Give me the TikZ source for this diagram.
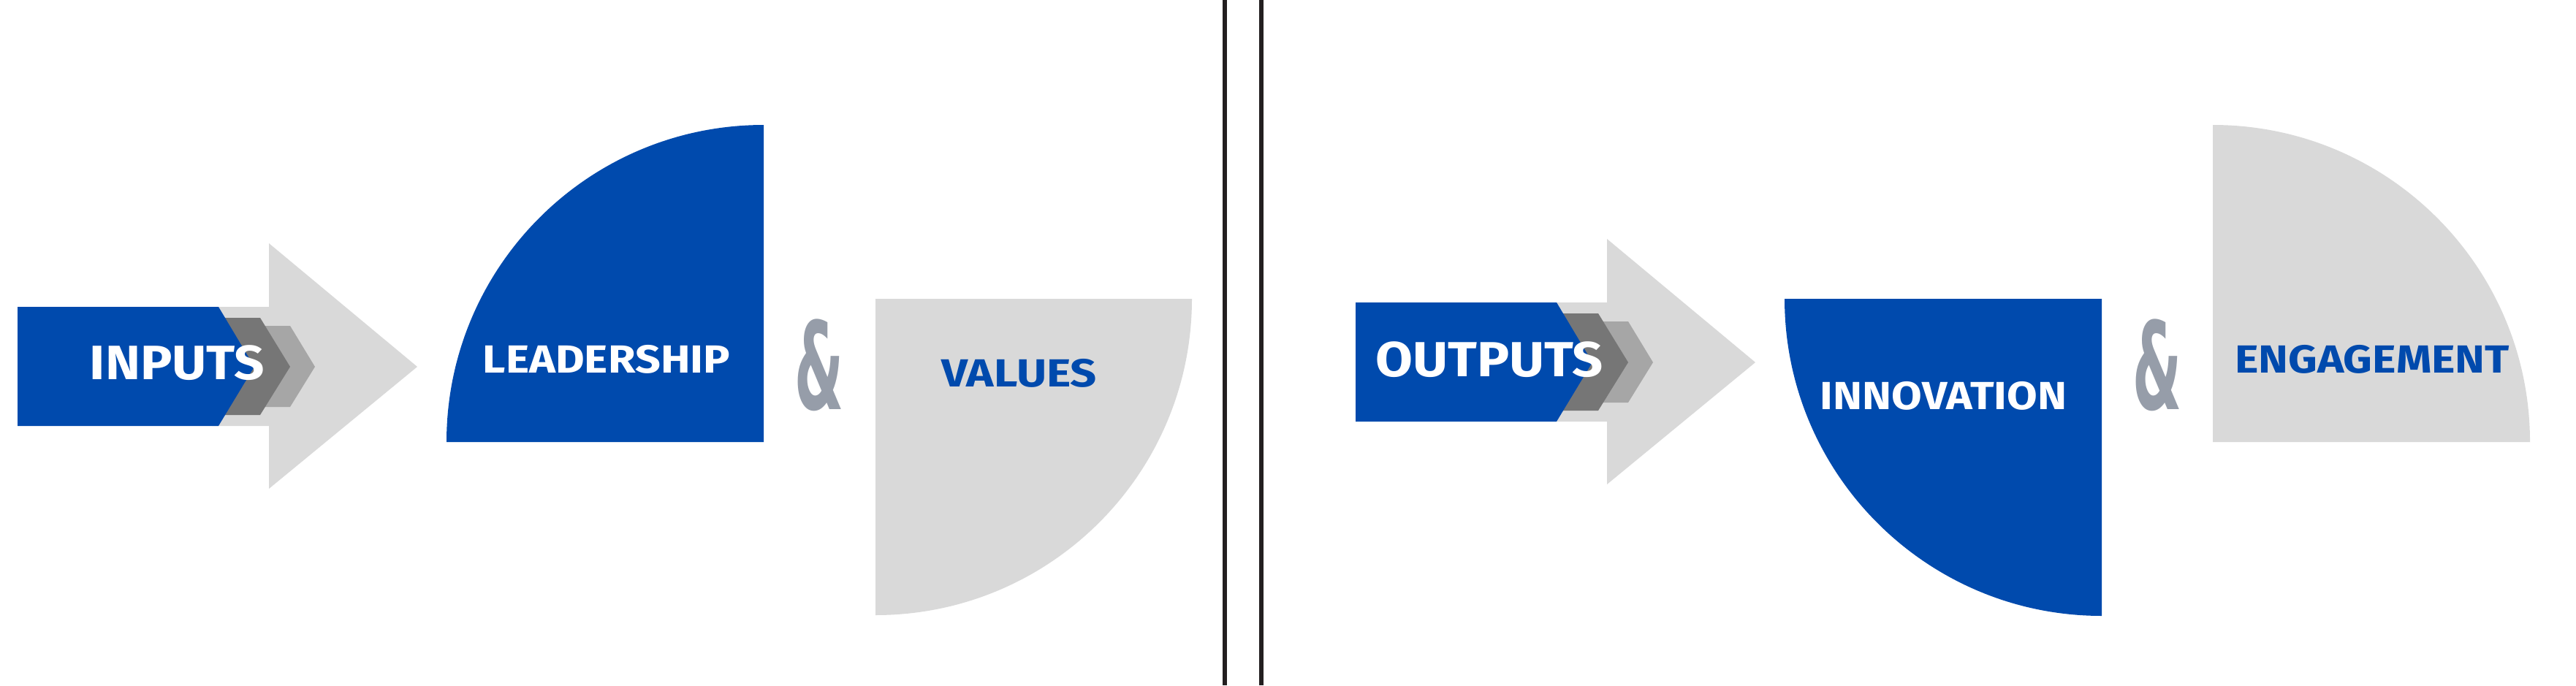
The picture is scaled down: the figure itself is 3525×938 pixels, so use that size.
\documentclass[tikz,border=0pt]{standalone}
\usepackage{fontspec}
\setmainfont{Fira Sans}
\newfontfamily\ampfont{DejaVu Sans}
\definecolor{brandblue}{HTML}{004AAD}
\definecolor{palegray}{HTML}{D9D9D9}
\definecolor{darkchev}{HTML}{767676}
\definecolor{midchev}{HTML}{A6A6A6}
\definecolor{ampgray}{HTML}{969DA9}
\definecolor{sepcol}{HTML}{231F20}
\begin{document}
\begin{tikzpicture}[x=1pt,y=-1pt,
  lbl/.style={inner sep=0pt,outer sep=0pt,anchor=center,font=\bfseries},
  amp/.style={inner sep=0pt,outer sep=0pt,anchor=center,font=\ampfont\bfseries,text=ampgray},
  sepline/.style={draw=sepcol,line width=6pt},
  bluefill/.style={fill=brandblue},
  grayfill/.style={fill=palegray}]
\useasboundingbox (0,0) rectangle (3525,938);
\fill[white] (0,0) rectangle (3525,938);

% process arrows (left one, then the same shifted)
\foreach \dx/\dy in {0/0,1831/-6}{
\begin{scope}[shift={(\dx,\dy)}]
  \fill[palegray] (290,420) -- (368,420) -- (368,333) -- (571,502) -- (368,669) -- (368,583) -- (290,583) -- cycle;
  \fill[midchev] (340,446) -- (397,446) -- (431,502) -- (397,557) -- (340,557) -- cycle;
  \fill[darkchev] (300,435) -- (356,435) -- (397,502) -- (356,568) -- (300,568) -- cycle;
  \fill[brandblue] (24,420) -- (299,420) -- (348,502) -- (299,583) -- (24,583) -- cycle;
\end{scope}
}

% quarter discs
\fill[bluefill] (1045,605) -- (1045,171) arc[start angle=-90,end angle=-180,radius=434] -- cycle;
\fill[grayfill] (1198,409) -- (1631,409) arc[start angle=0,end angle=90,radius=433] -- cycle;
\fill[bluefill] (2876,409) -- (2442,409) arc[start angle=180,end angle=90,radius=434] -- cycle;
\fill[grayfill] (3028,605) -- (3028,171) arc[start angle=-90,end angle=0,radius=434] -- cycle;

% separator lines
\coordinate (s1t) at (1676,0);
\coordinate (s1b) at (1676,938);
\coordinate (s2t) at (1726,0);
\coordinate (s2b) at (1726,938);
\draw[sepline] (s1t) -- (s1b);
\draw[sepline] (s2t) -- (s2b);

% labels
\node[lbl,text=white] (inputs) at (242.5,497) {\resizebox*{239pt}{48pt}{INPUTS}};
\node[lbl,text=white] (leadership) at (830,491.5) {\resizebox*{338pt}{39pt}{LEADERSHIP}};
\node[amp] (amp1) at (1120.5,500) {\resizebox*{67pt}{126pt}{\&}};
\node[lbl,text=brandblue] (values) at (1394.5,510.5) {\resizebox*{213pt}{39pt}{VALUES}};
\node[lbl,text=white] (outputs) at (2038,492.5) {\resizebox*{311.5pt}{49pt}{OUTPUTS}};
\node[lbl,text=white] (innovation) at (2659.5,541.5) {\resizebox*{337pt}{39pt}{INNOVATION}};
\node[amp] (amp2) at (2951.5,500) {\resizebox*{67pt}{126pt}{\&}};
\node[lbl,text=brandblue] (engagement) at (3246,491.5) {\resizebox*{376pt}{39pt}{ENGAGEMENT}};
\end{tikzpicture}
\end{document}
